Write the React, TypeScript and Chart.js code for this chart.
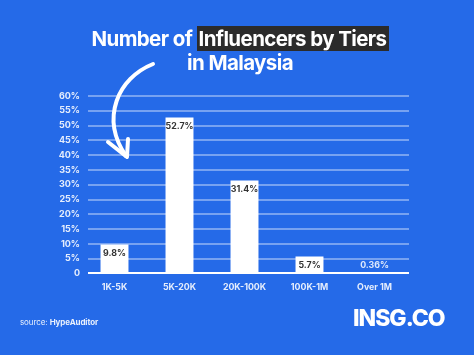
import React, { useEffect, useRef } from "react";
import { Chart, registerables } from "chart.js";

Chart.register(...registerables);

const categories = ["1K-5K", "5K-20K", "20K-100K", "100K-1M", "Over 1M"];
const shares = [9.8, 52.7, 31.4, 5.7, 0.36];
const shareLabels = ["9.8%", "52.7%", "31.4%", "5.7%", "0.36%"];
const yTicks = [0, 5, 10, 15, 20, 25, 30, 35, 40, 45, 50, 55, 60];

const BG = "#256AE8";
const FONT = "Inter, 'Noto Sans', sans-serif";

const gridPlugin = {
  id: "customGrid",
  beforeDatasetsDraw(chart: any) {
    const { ctx, chartArea, scales } = chart;
    const y = scales.y;
    ctx.save();
    yTicks.forEach((v) => {
      const py = Math.round(y.getPixelForValue(v));
      if (v === 0) {
        ctx.strokeStyle = "#ffffff";
        ctx.lineWidth = 2;
      } else {
        ctx.strokeStyle = "rgba(255,255,255,0.5)";
        ctx.lineWidth = 1.5;
      }
      ctx.beginPath();
      ctx.moveTo(chartArea.left + 6, py);
      ctx.lineTo(chartArea.right + 2, py);
      ctx.stroke();
    });
    ctx.restore();
  },
};

const labelPlugin = {
  id: "barLabels",
  afterDatasetsDraw(chart: any) {
    const { ctx } = chart;
    const meta = chart.getDatasetMeta(0);
    ctx.save();
    ctx.font = `700 8.8px ${FONT}`;
    ctx.textAlign = "center";
    ctx.textBaseline = "middle";
    meta.data.forEach((bar: any, i: number) => {
      const v = shares[i];
      if (v < 2) {
        ctx.fillStyle = "rgba(255,255,255,0.85)";
        ctx.fillText(shareLabels[i], bar.x, bar.y - 7);
      } else {
        ctx.fillStyle = "#333333";
        ctx.fillText(shareLabels[i], bar.x, bar.y + 9);
      }
    });
    ctx.restore();
  },
};

export default function App() {
  const ref = useRef<HTMLCanvasElement>(null);

  useEffect(() => {
    if (!ref.current) return;
    const chart = new Chart(ref.current, {
      type: "bar",
      data: {
        labels: categories,
        datasets: [
          {
            data: shares,
            backgroundColor: "#ffffff",
            borderWidth: 0,
            barPercentage: 0.43,
            categoryPercentage: 1,
          },
        ],
      },
      options: {
        animation: false,
        responsive: false,
        devicePixelRatio: 1,
        layout: { padding: { top: 96, left: 0, right: 67, bottom: 53 } },
        plugins: {
          legend: { display: false },
          tooltip: { enabled: false },
          title: { display: false },
        },
        scales: {
          x: {
            grid: { display: false, drawTicks: false },
            border: { display: false },
            ticks: {
              color: "rgba(255,255,255,0.88)",
              font: { family: FONT, size: 8.8, weight: "bold" },
              padding: 9,
              maxRotation: 0,
              autoSkip: false,
            },
          },
          y: {
            min: 0,
            max: 60,
            afterFit(scale: any) {
              scale.width = 82;
            },
            grid: { display: false, drawTicks: false },
            border: { display: false },
            ticks: {
              stepSize: 5,
              autoSkip: false,
              padding: 2,
              color: "rgba(255,255,255,0.88)",
              font: { family: FONT, size: 9, weight: "bold" },
              callback: (v: any) => (Number(v) === 0 ? "0" : `${v}%`),
            },
          },
        },
      },
      plugins: [gridPlugin, labelPlugin],
    });
    return () => chart.destroy();
  }, []);

  return (
    <div
      style={{
        position: "fixed",
        left: 0,
        top: 0,
        width: 474,
        height: 355,
        background: BG,
        overflow: "hidden",
        fontFamily: FONT,
        color: "#ffffff",
      }}
    >
      <canvas
        ref={ref}
        width={474}
        height={355}
        style={{ position: "absolute", left: 0, top: 0, width: 474, height: 355 }}
      />
      <div
        style={{
          position: "absolute",
          top: 27,
          left: 3,
          width: 474,
          textAlign: "center",
          fontWeight: 700,
          fontSize: 20.5,
          lineHeight: "24px",
          letterSpacing: "-0.6px",
        }}
      >
        Number of{" "}
        <span style={{ background: "#2b2b2b", padding: "0 2px" }}>Influencers by Tiers</span>
        <br />
        in Malaysia
      </div>
      <svg
        width={474}
        height={355}
        style={{ position: "absolute", left: 0, top: 0, pointerEvents: "none" }}
      >
        <path
          d="M153,64 C118,78 100,118 126,156"
          fill="none"
          stroke="#ffffff"
          strokeWidth={4}
          strokeLinecap="round"
        />
        <path
          d="M108,142 L127,157 L128,139"
          fill="none"
          stroke="#ffffff"
          strokeWidth={4}
          strokeLinecap="round"
          strokeLinejoin="round"
        />
      </svg>
      <div
        style={{
          position: "absolute",
          left: 20,
          top: 316,
          fontSize: 8,
          lineHeight: "12px",
          letterSpacing: "-0.1px",
          color: "rgba(255,255,255,0.9)",
        }}
      >
        source: <b>HypeAuditor</b>
      </div>
      <div
        style={{
          position: "absolute",
          left: 353,
          top: 304,
          fontSize: 23,
          fontWeight: 800,
          lineHeight: "28px",
          letterSpacing: "-1px",
        }}
      >
        INSG.CO
      </div>
    </div>
  );
}
